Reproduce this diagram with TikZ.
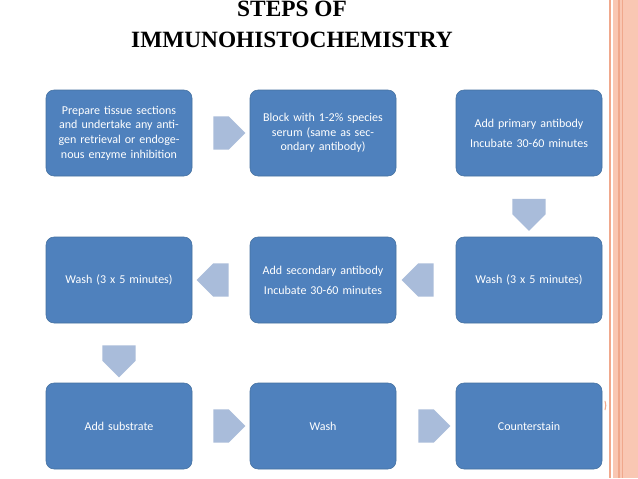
\documentclass[tikz,border=0pt]{standalone}
\usepackage{fontspec}
\setmainfont{Carlito}
\newfontfamily\titlefont{Liberation Serif}
\usetikzlibrary{shapes.arrows,calc}
\definecolor{boxfill}{HTML}{4F81BD}
\definecolor{boxline}{HTML}{44709F}
\definecolor{arrfill}{HTML}{A9BCDA}
\definecolor{salmon}{HTML}{F9C7B3}
\definecolor{salmondk}{HTML}{F0A88C}
\begin{document}
\begin{tikzpicture}[x=0.75pt,y=-0.75pt,
  stepbox/.style={draw=boxline,fill=boxfill,rounded corners=6pt,minimum width=109.5pt,minimum height=64.5pt,text width=100pt,align=center,text=white,font=\fontsize{9}{11}\selectfont,inner sep=2pt},
  harr/.style={single arrow,fill=arrfill,draw=none,minimum height=24pt,minimum width=25pt,single arrow head extend=0pt,inner sep=3pt,shape border rotate=0},
  varr/.style={harr,shape border rotate=270}]
\useasboundingbox (0,0) rectangle (638,478);
\fill[white] (0,0) rectangle (638,478);
% right decoration
\fill[salmon] (613,0) rectangle (638,478);
\draw[salmondk,line width=0.8pt] (610,0) -- (610,478);
\draw[salmondk,line width=1.5pt] (618.5,0) -- (618.5,478);
\draw[salmondk,line width=0.8pt] (622.5,0) -- (622.5,478);
\draw[salmondk,line width=0.8pt] (605,410) arc (-20:20:10pt);
% title
\node[font=\titlefont\bfseries\fontsize{17.5}{20}\selectfont] (t1) at (292,9) {STEPS OF};
\node[font=\titlefont\bfseries\fontsize{17.5}{20}\selectfont] (t2) at (292,40) {IMMUNOHISTOCHEMISTRY};
% boxes
\node[stepbox] (a) at (119,133) {Prepare tissue sections and undertake any antigen retrieval or endogenous enzyme inhibition};
\node[stepbox] (b) at (323,133) {Block with 1-2\% species serum (same as secondary antibody)};
\node[stepbox] (c) at (529,133) {Add primary antibody\\[4pt]Incubate 30-60 minutes};
\node[stepbox] (d) at (529,280) {Wash (3 x 5 minutes)};
\node[stepbox] (e) at (323,280) {Add secondary antibody\\[4pt]Incubate 30-60 minutes};
\node[stepbox] (f) at (119,280) {Wash (3 x 5 minutes)};
\node[stepbox] (g) at (119,426) {Add substrate};
\node[stepbox] (h) at (323,426) {Wash};
\node[stepbox] (i) at (529,426) {Counterstain};
% arrows
\node[harr] (ab) at ($(a.east)!0.5!(b.west)$) {};
\node[harr] (hi) at ($(h.east)!0.5!(i.west)$) {};
\node[harr] (gh) at ($(g.east)!0.5!(h.west)$) {};
\node[harr,shape border rotate=180] (de) at ($(d.west)!0.5!(e.east)$) {};
\node[harr,shape border rotate=180] (ef) at ($(e.west)!0.5!(f.east)$) {};
\node[varr] (cd) at ($(c.south)!0.5!(d.north)$) {};
\node[varr] (fg) at ($(f.south)!0.5!(g.north)$) {};
\end{tikzpicture}
\end{document}
